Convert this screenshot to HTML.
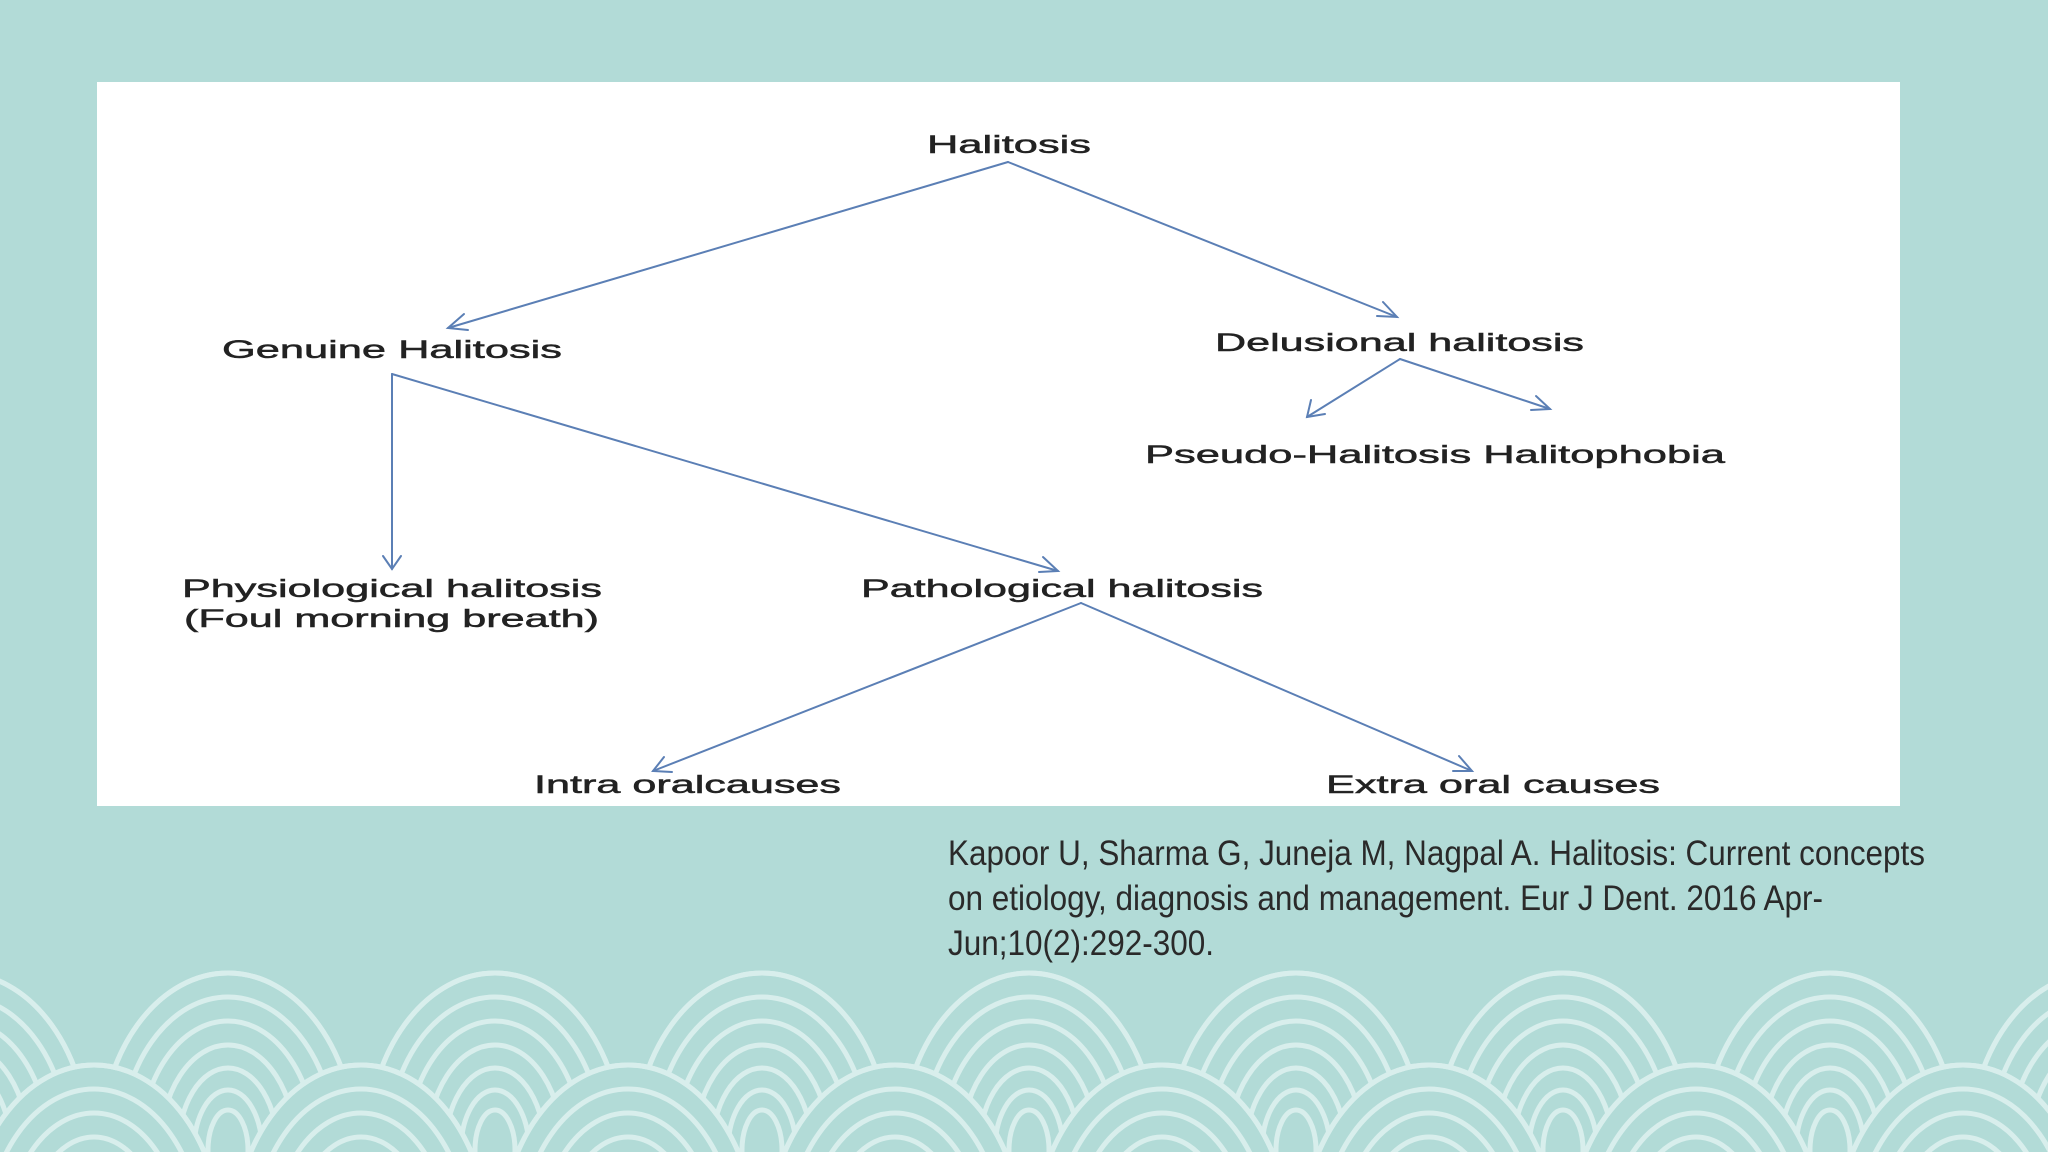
<!DOCTYPE html>
<html><head><meta charset="utf-8"><style>
html,body{margin:0;padding:0;background:#b2dbd7;width:2048px;height:1152px;overflow:hidden;}
svg{display:block}
</style></head><body>
<svg width="2048" height="1152" viewBox="0 0 2048 1152" xmlns="http://www.w3.org/2000/svg">
<rect width="2048" height="1152" fill="#b2dbd7"/>
<defs>
<g id="ringA">
<ellipse rx="128" ry="177" fill="#b2dbd7"/>
<ellipse rx="128" ry="177"/><ellipse rx="108" ry="153"/><ellipse rx="88" ry="129"/><ellipse rx="68" ry="105"/><ellipse rx="50" ry="82"/><ellipse rx="34" ry="60"/><ellipse rx="20" ry="40"/>
</g>
</defs>
<g stroke="#d8eeec" stroke-width="5" fill="none">
<use href="#ringA" x="-39" y="1150"/><use href="#ringA" x="228" y="1150"/><use href="#ringA" x="495" y="1150"/><use href="#ringA" x="762" y="1150"/><use href="#ringA" x="1029" y="1150"/><use href="#ringA" x="1296" y="1150"/><use href="#ringA" x="1563" y="1150"/><use href="#ringA" x="1830" y="1150"/><use href="#ringA" x="2097" y="1150"/>
<use href="#ringA" x="-173" y="1242"/><use href="#ringA" x="94" y="1242"/><use href="#ringA" x="361" y="1242"/><use href="#ringA" x="628" y="1242"/><use href="#ringA" x="895" y="1242"/><use href="#ringA" x="1162" y="1242"/><use href="#ringA" x="1429" y="1242"/><use href="#ringA" x="1696" y="1242"/><use href="#ringA" x="1963" y="1242"/><use href="#ringA" x="2230" y="1242"/>
</g>
<rect x="97" y="82" width="1803" height="724" fill="#ffffff"/>
<g stroke="#5b7fb5" stroke-width="2" fill="none" stroke-linecap="round">
<line x1="1008" y1="162" x2="448" y2="328"/><polyline points="464,314 448,328 468,330"/>
<line x1="1008" y1="162" x2="1397" y2="317"/><polyline points="1377,316 1397,317 1383,302"/>
<line x1="1400" y1="359" x2="1307" y2="417"/><polyline points="1311,400 1307,417 1325,414"/>
<line x1="1400" y1="359" x2="1550" y2="409"/><polyline points="1531,410 1550,409 1536,396"/>
<line x1="392" y1="374" x2="392" y2="569"/><polyline points="383,556 392,569 401,556"/>
<line x1="392" y1="374" x2="1058" y2="571"/><polyline points="1039,572 1058,571 1043,557"/>
<line x1="1081" y1="603" x2="653" y2="771"/><polyline points="664,757 653,771 672,772"/>
<line x1="1081" y1="603" x2="1472" y2="771"/><polyline points="1453,771 1472,771 1459,756"/>
</g>
<g font-family="Liberation Sans, Arial, sans-serif" font-size="25" fill="#222" stroke="#222" stroke-width="0.5">
<text x="927" y="153" textLength="164" lengthAdjust="spacingAndGlyphs">Halitosis</text>
<text x="222" y="358" textLength="340" lengthAdjust="spacingAndGlyphs">Genuine Halitosis</text>
<text x="1215" y="351" textLength="369" lengthAdjust="spacingAndGlyphs">Delusional halitosis</text>
<text x="1145" y="463" textLength="580" lengthAdjust="spacingAndGlyphs">Pseudo-Halitosis  Halitophobia</text>
<text x="182" y="597" textLength="420" lengthAdjust="spacingAndGlyphs">Physiological halitosis</text>
<text x="184" y="627" textLength="415" lengthAdjust="spacingAndGlyphs">(Foul morning breath)</text>
<text x="861" y="597" textLength="402" lengthAdjust="spacingAndGlyphs">Pathological halitosis</text>
<text x="534" y="793" textLength="307" lengthAdjust="spacingAndGlyphs">Intra oralcauses</text>
<text x="1326" y="793" textLength="334" lengthAdjust="spacingAndGlyphs">Extra oral causes</text>
</g>
<g font-family="Liberation Sans Narrow, Liberation Sans, Arial, sans-serif" font-size="35" fill="#2a2a2a">
<text x="948" y="865" textLength="977" lengthAdjust="spacingAndGlyphs">Kapoor U, Sharma G, Juneja M, Nagpal A. Halitosis: Current concepts</text>
<text x="948" y="910" textLength="875" lengthAdjust="spacingAndGlyphs">on etiology, diagnosis and management. Eur J Dent. 2016 Apr-</text>
<text x="948" y="955" textLength="266" lengthAdjust="spacingAndGlyphs">Jun;10(2):292-300.</text>
</g>
</svg>
</body></html>
